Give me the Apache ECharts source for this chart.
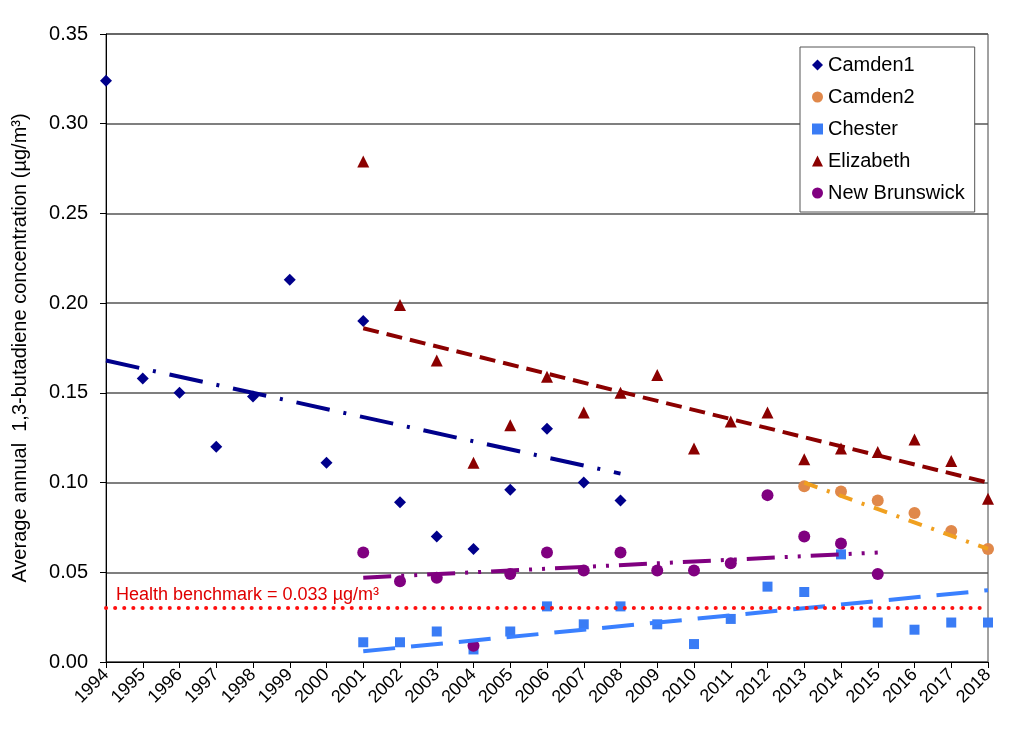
<!DOCTYPE html>
<html>
<head>
<meta charset="utf-8">
<script src="https://cdn.jsdelivr.net/npm/echarts@6/dist/echarts.min.js"></script>
<style>
  html, body { margin: 0; padding: 0; background: #fff; }
  #chart { width: 1024px; height: 744px; }
</style>
</head>
<body>
<div id="chart"></div>
<script>
var years = ['1994','1995','1996','1997','1998','1999','2000','2001','2002','2003','2004','2005',
  '2006','2007','2008','2009','2010','2011','2012','2013','2014','2015','2016','2017','2018'];
var yTicks = [0, 0.05, 0.10, 0.15, 0.20, 0.25, 0.30, 0.35];

// measured values (null = no data)
var camden1 = [0.324,0.158,0.150,0.120,0.148,0.213,0.111,0.190,0.089,0.070,0.063,0.096,0.130,0.100,0.090,
  null,null,null,null,null,null,null,null,null,null];
var camden2 = [null,null,null,null,null,null,null,null,null,null,null,null,null,null,null,null,null,null,null,
  0.098,0.095,0.090,0.083,0.073,0.063];
var chester = [null,null,null,null,null,null,null,0.011,0.011,0.017,0.007,0.017,0.031,0.021,0.031,0.021,
  0.010,0.024,0.042,0.039,0.060,0.022,0.018,0.022,0.022];
var elizabeth = [null,null,null,null,null,null,null,0.279,0.199,0.168,0.111,0.132,0.159,0.139,0.150,0.160,
  0.119,0.134,0.139,0.113,0.119,0.117,0.124,0.112,0.091];
var newBrunswick = [null,null,null,null,null,null,null,0.061,0.045,0.047,0.009,0.049,0.061,0.051,0.061,0.051,
  0.051,0.055,0.093,0.070,0.066,0.049,null,null,null];

// trend line end points
var camden1Trend = [['1994',0.168],['2008',0.105]];
var camden2Trend = [['2013',0.100],['2018',0.063]];
var chesterTrend = [['2001',0.006],['2018',0.040]];
var elizabethTrend = [['2001',0.186],['2018',0.100]];
var nbTrend = [['2001',0.047],['2015',0.061]];
var benchmark = 0.033;

var font = 'Liberation Sans, Arial, sans-serif';

function scatter(name, data, symbol, size, color) {
  return {
    name: name, type: 'scatter', data: data, symbol: symbol, symbolSize: size,
    itemStyle: { color: color, opacity: 1 }, z: 3
  };
}
function trend(data, color, dash) {
  return {
    type: 'line', data: data, symbol: 'none', silent: true, z: 4,
    lineStyle: { color: color, width: 4, type: dash }
  };
}

var myChart = echarts.init(document.getElementById('chart'));
var option = {
  animation: false,
  textStyle: { fontFamily: font },
  grid: { left: 106, right: 36, top: 34, bottom: 82, show: true, borderColor: '#444', borderWidth: 1,
    containLabel: false, outerBoundsMode: 'none' },
  legend: {
    data: ['Camden1','Camden2','Chester','Elizabeth','New Brunswick'],
    orient: 'vertical', left: 800, top: 47,
    backgroundColor: '#fff', borderColor: '#555', borderWidth: 1,
    padding: [8, 10, 9, 12], itemGap: 12, itemWidth: 11, itemHeight: 11,
    textStyle: { fontSize: 20, lineHeight: 20, color: '#000', fontFamily: font }
  },
  xAxis: {
    type: 'category', data: years, boundaryGap: false,
    axisLine: { lineStyle: { color: '#000', width: 1 } },
    axisTick: { show: true, alignWithLabel: true, length: 6, lineStyle: { color: '#000' } },
    axisLabel: { rotate: 45, fontSize: 18, color: '#000', interval: 0, margin: 10 },
    splitLine: { show: false }
  },
  yAxis: {
    type: 'value', min: 0, max: 0.35, interval: 0.05,
    name: 'Average annual  1,3-butadiene concentration (µg/m³)',
    nameLocation: 'middle', nameGap: 76, nameRotate: 90,
    nameTextStyle: { fontSize: 20, color: '#000' },
    axisLine: { show: true, lineStyle: { color: '#000' } },
    axisTick: { show: true, length: 6, lineStyle: { color: '#000' } },
    axisLabel: { fontSize: 20, color: '#000', margin: 18,
      formatter: function (v) { return v.toFixed(2); } },
    splitLine: { lineStyle: { color: '#555', width: 1.5 } }
  },
  series: [
    scatter('Camden1', camden1, 'diamond', 12, '#00008b'),
    scatter('Camden2', camden2, 'circle', 12, '#e0884a'),
    scatter('Chester', chester, 'rect', 10, '#3a7cf5'),
    scatter('Elizabeth', elizabeth, 'triangle', 12, '#8b0000'),
    scatter('New Brunswick', newBrunswick, 'circle', 12, '#800080'),
    trend(camden1Trend, '#00008b', [34, 14, 3, 14]),
    trend(camden2Trend, '#f0a020', [14, 10, 3, 10]),
    trend(chesterTrend, '#3a80ff', [32, 16]),
    trend(elizabethTrend, '#8b0000', [16, 8]),
    trend(nbTrend, '#800080', [28, 10, 3, 10, 3, 10]),
    {
      type: 'line', data: [], silent: true,
      markLine: {
        symbol: 'none', silent: true,
        lineStyle: { color: '#ff1010', width: 4, type: [0.1, 9], cap: 'round' },
        label: { show: true, position: 'insideStartTop', formatter: 'Health benchmark = 0.033 µg/m³',
          color: '#e00000', fontSize: 18, distance: [10, 4], fontFamily: font },
        data: [{ yAxis: benchmark }]
      }
    }
  ]
};
myChart.setOption(option);
</script>
</body>
</html>
